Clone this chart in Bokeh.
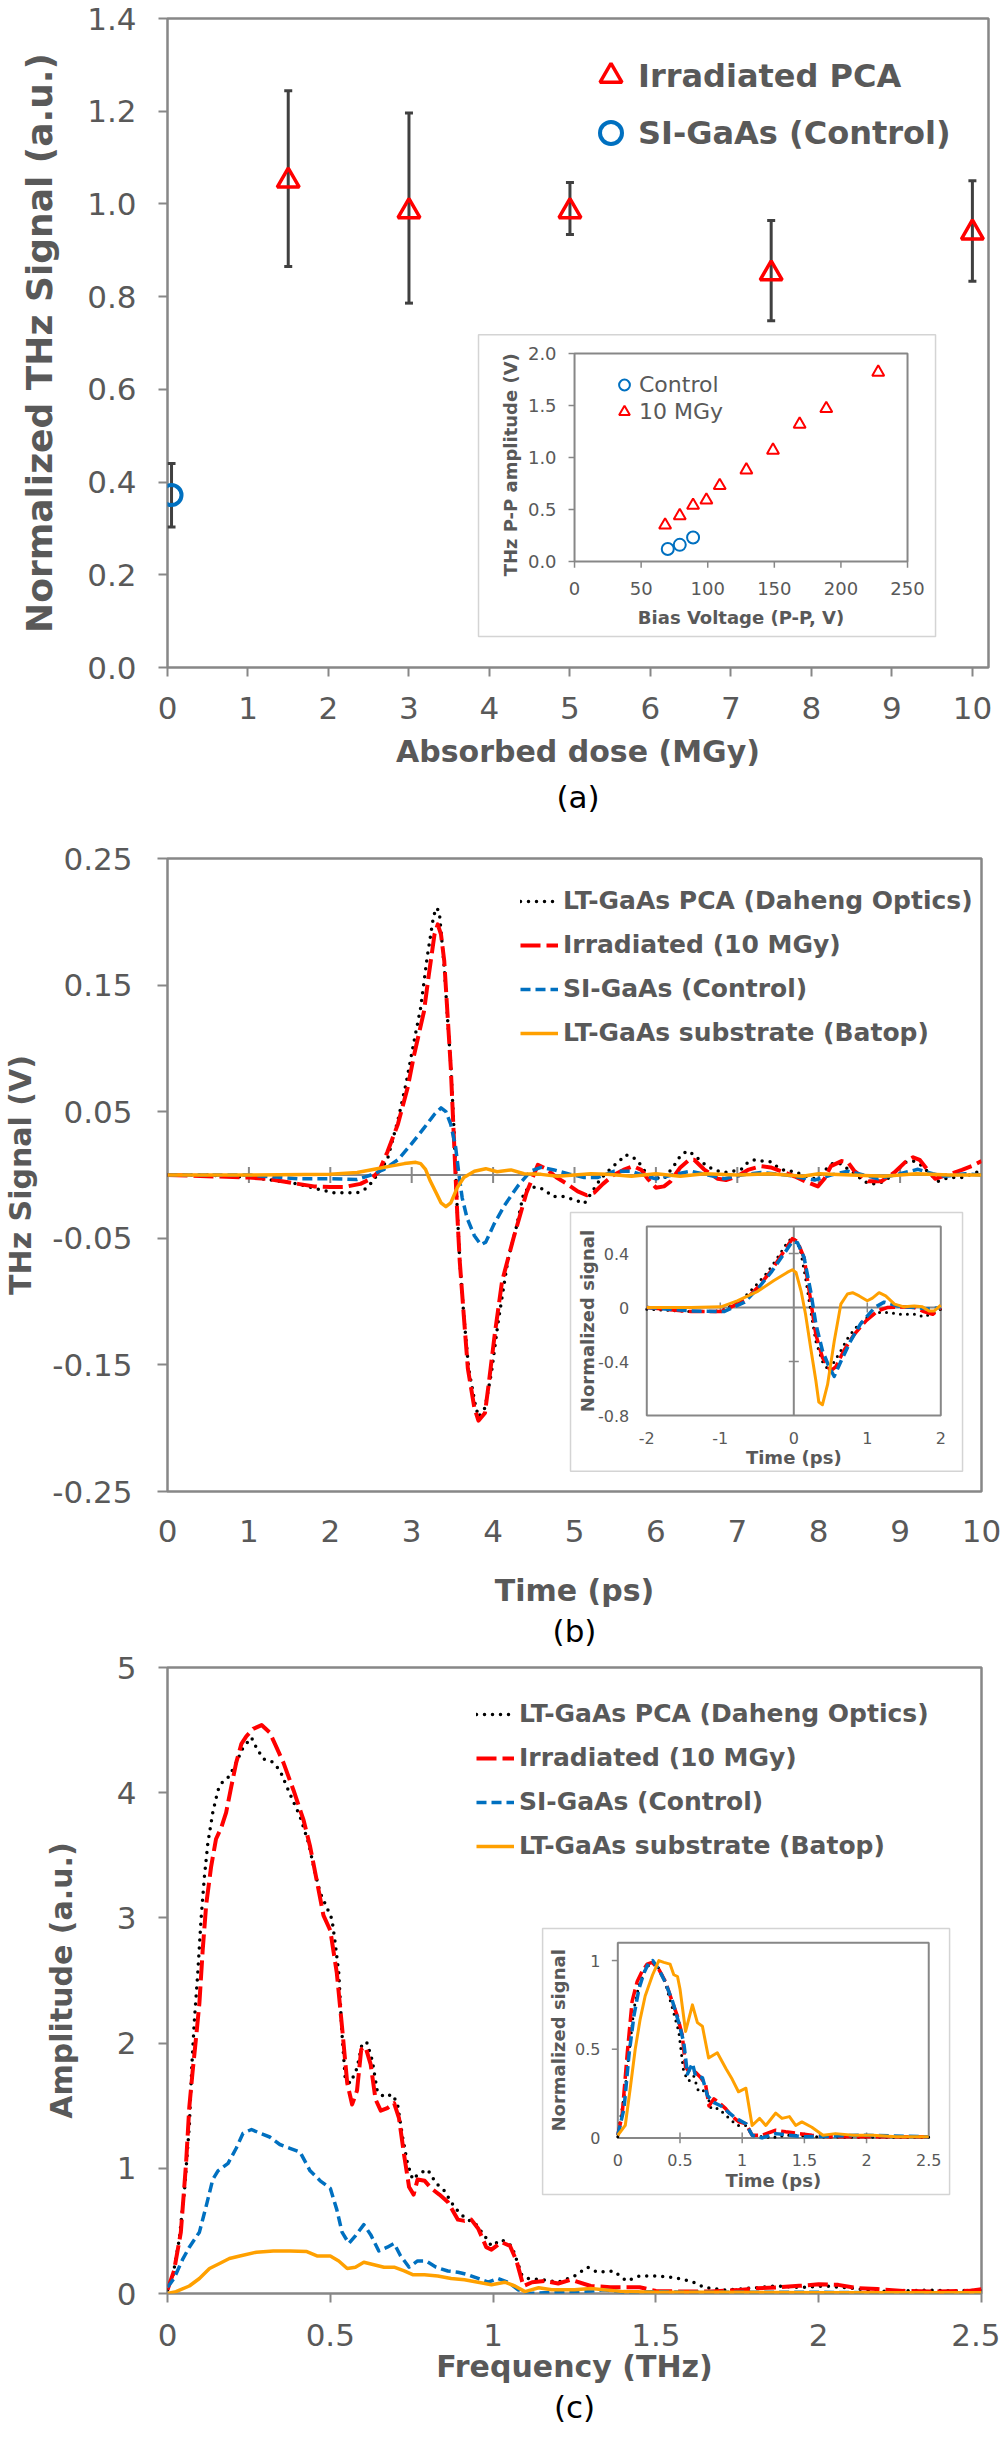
import math
from bokeh.plotting import figure
from bokeh.layouts import column
from bokeh.models import (Range1d, FixedTicker, Legend, LegendItem, Whisker,
                          ColumnDataSource, Title, TeeHead)
from bokeh.embed import file_html
from bokeh.resources import INLINE
from bokeh.core.properties import value

FONT = "DejaVu Sans"
TXT = "#595959"
FRAME = "#878787"
RED = "#FF0000"
BLUE = "#0070C0"
ORANGE = "#FFA000"
BLACK = "#000000"

# ---------------- Panel (a) data ----------------
dose_irr = [1.5, 3, 5, 7.5, 10]
sig_irr = [1.05, 0.984, 0.984, 0.85, 0.938]
lo_irr = [0.865, 0.786, 0.934, 0.748, 0.833]
hi_irr = [1.244, 1.196, 1.046, 0.964, 1.05]
dose_ctrl = [0.05]
sig_ctrl = [0.372]
lo_ctrl = [0.303]
hi_ctrl = [0.44]
a_xticks = list(range(0, 11))
a_yticks = [0.0, 0.2, 0.4, 0.6, 0.8, 1.0, 1.2, 1.4]
a_ylabels = ["0.0", "0.2", "0.4", "0.6", "0.8", "1.0", "1.2", "1.4"]

# inset (a): THz P-P amplitude vs bias voltage
bias_10 = [68, 79, 89, 99, 109, 129, 149, 169, 189, 228]
pp_10 = [0.35, 0.44, 0.54, 0.59, 0.73, 0.88, 1.07, 1.32, 1.47, 1.82]
bias_ctrl = [70, 79, 89]
pp_ctrl = [0.12, 0.16, 0.23]
ia_xticks = [0, 50, 100, 150, 200, 250]
ia_yticks = [0.0, 0.5, 1.0, 1.5, 2.0]
ia_ylabels = ["0.0", "0.5", "1.0", "1.5", "2.0"]

# ---------------- Panel (b) data ----------------
tb_k = [0, 0.5, 1.06, 1.6, 1.84, 2.05, 2.33, 2.46, 2.58, 2.70, 2.83, 2.93, 3.03, 3.11, 3.19, 3.27,
        3.31, 3.34, 3.40, 3.44, 3.48, 3.52, 3.56, 3.59, 3.64, 3.70, 3.78, 3.82, 3.90, 3.98, 4.06,
        4.18, 4.29, 4.38, 4.46, 4.55, 4.64, 4.73, 4.87, 5.04, 5.12, 5.2, 5.32, 5.46, 5.55, 5.63,
        5.72, 5.79, 5.85, 5.98, 6.1, 6.24, 6.3, 6.38, 6.47, 6.55, 6.63, 6.72, 6.84, 6.94, 7.05,
        7.13, 7.21, 7.31, 7.41, 7.5, 7.6, 7.7, 7.83, 7.95, 8.09, 8.17, 8.26, 8.4, 8.52, 8.61, 8.73,
        8.83, 8.95, 9.06, 9.16, 9.25, 9.35, 9.47, 9.6, 9.76, 9.9, 10]
vb_k = [0, 0, -0.002, -0.007, -0.011, -0.014, -0.014, -0.010, 0.0005, 0.012, 0.043, 0.072, 0.106,
        0.132, 0.172, 0.205, 0.211, 0.207, 0.164, 0.124, 0.087, 0.035, -0.028, -0.068, -0.111,
        -0.153, -0.181, -0.191, -0.184, -0.156, -0.117, -0.068, -0.040, -0.013, -0.010, -0.0095,
        -0.012, -0.017, -0.017, -0.0205, -0.0225, -0.015, -0.003, 0.006, 0.011, 0.016, 0.014,
        0.010, 0.004, -0.002, -0.003, 0.009, 0.015, 0.019, 0.016, 0.011, 0.007, 0.004, 0.002,
        0.003, 0.0045, 0.010, 0.012, 0.011, 0.0105, 0.006, 0.003, 0.003, -0.001, -0.003, 0.0045,
        0.009, 0.009, 0.003, -0.003, -0.007, -0.007, -0.004, 0.003, 0.010, 0.011, 0.008, 0.002,
        -0.005, -0.002, -0.002, 0.001, 0.004]

tb_r = [0, 1.0, 1.23, 1.6, 1.8, 2.0, 2.17, 2.37, 2.5, 2.6, 2.7, 2.83, 2.95, 3.03, 3.15, 3.21, 3.28,
        3.32, 3.36, 3.40, 3.44, 3.48, 3.52, 3.56, 3.59, 3.64, 3.69, 3.77, 3.82, 3.9, 3.95, 4.02,
        4.11, 4.25, 4.41, 4.55, 4.65, 4.78, 4.91, 5.04, 5.15, 5.24, 5.35, 5.48, 5.6, 5.72, 5.82,
        5.9, 6.0, 6.1, 6.18, 6.3, 6.41, 6.47, 6.59, 6.76, 6.86, 7.0, 7.13, 7.29, 7.41, 7.54, 7.7,
        7.87, 7.99, 8.07, 8.15, 8.28, 8.36, 8.44, 8.61, 8.77, 8.93, 9.06, 9.16, 9.24, 9.35, 9.43,
        9.6, 9.76, 9.88, 10]
vb_r = [0, -0.002, -0.003, -0.007, -0.009, -0.0095, -0.0095, -0.007, -0.003, 0.003, 0.018, 0.040,
        0.069, 0.095, 0.129, 0.158, 0.190, 0.198, 0.190, 0.169, 0.127, 0.085, 0.027, -0.031,
        -0.068, -0.111, -0.153, -0.184, -0.194, -0.188, -0.163, -0.126, -0.084, -0.050, -0.014,
        0.008, 0.005, -0.002, -0.007, -0.013, -0.016, -0.014, -0.007, 0, 0.004, 0.007, 0.004,
        -0.003, -0.010, -0.009, -0.005, 0.006, 0.012, 0.012, 0.0045, -0.003, -0.004, -0.001,
        0.004, 0.007, 0.006, 0.003, -0.001, -0.006, -0.009, -0.003, 0.007, 0.011, 0.010, 0.003,
        -0.005, -0.005, 0.002, 0.010, 0.014, 0.012, 0.003, -0.003, 0.0005, 0.004, 0.007, 0.011]

tb_b = [0, 1.0, 1.6, 2.0, 2.33, 2.5, 2.66, 2.83, 2.99, 3.15, 3.28, 3.36, 3.42, 3.48, 3.54, 3.58,
        3.62, 3.68, 3.77, 3.85, 3.91, 4.01, 4.14, 4.3, 4.46, 4.59, 4.75, 4.95, 5.12, 5.28, 5.49,
        5.69, 5.94, 6.0, 6.2, 6.43, 6.64, 6.84, 7.05, 7.29, 7.6, 7.95, 8.15, 8.36, 8.55, 8.73,
        9.0, 9.22, 9.4, 9.55, 9.8, 10]
vb_b = [0, 0, -0.003, -0.003, -0.0035, 0, 0.0045, 0.012, 0.024, 0.037, 0.048, 0.053, 0.050, 0.040,
        0.022, 0.0005, -0.018, -0.034, -0.048, -0.055, -0.053, -0.039, -0.024, -0.009, 0.003,
        0.006, 0.004, 0.0005, -0.002, -0.002, 0.003, 0.003, -0.002, -0.003, 0, 0.003, 0, -0.003,
        0, 0.002, 0, -0.004, 0, 0.003, 0, -0.003, 0.001, 0.0045, 0.001, -0.001, 0.001, 0]

tb_o = [0, 1, 2, 2.33, 2.54, 2.74, 2.91, 3.05, 3.11, 3.17, 3.23, 3.3, 3.36, 3.42, 3.48, 3.56, 3.64,
        3.77, 3.91, 4.05, 4.22, 4.38, 4.59, 4.79, 5.0, 5.2, 5.4, 5.7, 6.0, 6.3, 6.6, 7.0, 7.4, 7.8,
        8.0, 8.4, 8.8, 9.2, 9.6, 10]
vb_o = [0, 0, 0.0005, 0.002, 0.0045, 0.007, 0.009, 0.010, 0.009, 0.0045, -0.005, -0.014, -0.022,
        -0.025, -0.022, -0.010, -0.002, 0.003, 0.005, 0.0026, 0.004, 0.001, 0.0005, -0.001, 0,
        0.001, 0.0005, -0.001, 0.001, -0.001, 0.001, 0, 0.001, -0.001, 0.001, 0, -0.001, 0.001, 0, 0]

b_xticks = list(range(0, 11))
b_yticks = [-0.25, -0.15, -0.05, 0.05, 0.15, 0.25]
b_ylabels = ["-0.25", "-0.15", "-0.05", "0.05", "0.15", "0.25"]
b_zero_ticks = list(range(1, 10))

# inset (b): normalized pulses
ti_o = [-2, -1.4, -0.99, -0.77, -0.49, -0.27, -0.09, -0.02, 0.03, 0.1, 0.16, 0.23, 0.30, 0.34,
        0.39, 0.46, 0.55, 0.64, 0.73, 0.8, 0.89, 1.0, 1.07, 1.16, 1.25, 1.37, 1.5, 1.64, 1.75,
        1.84, 1.91, 2.0]
vi_o = [0, 0, 0.005, 0.05, 0.12, 0.2, 0.26, 0.28, 0.26, 0.12, -0.05, -0.30, -0.54, -0.70, -0.72,
        -0.57, -0.25, 0.025, 0.10, 0.11, 0.086, 0.05, 0.07, 0.11, 0.086, 0.025, 0.005, 0.012,
        0.005, -0.025, -0.025, 0.017]
ti_k = [-2, -1.4, -0.99, -0.72, -0.54, -0.36, -0.22, -0.09, -0.02, 0.05, 0.095, 0.16, 0.23, 0.3,
        0.39, 0.48, 0.55, 0.64, 0.73, 0.84, 1.0, 1.14, 1.27, 1.46, 1.66, 1.77, 1.91, 2.0]
vi_k = [-0.012, -0.03, -0.025, 0.05, 0.15, 0.26, 0.37, 0.48, 0.52, 0.48, 0.41, 0.22, -0.025,
        -0.25, -0.40, -0.47, -0.40, -0.32, -0.23, -0.15, -0.074, -0.037, -0.037, -0.05, -0.05,
        -0.07, -0.037, -0.012]
ti_r = [-2, -1.4, -0.99, -0.67, -0.49, -0.31, -0.13, -0.02, 0.05, 0.14, 0.23, 0.3, 0.39, 0.5,
        0.57, 0.68, 0.82, 0.98, 1.14, 1.27, 1.46, 1.64, 1.77, 1.89, 2.0]
vi_r = [0, -0.03, -0.03, 0.05, 0.15, 0.27, 0.42, 0.51, 0.49, 0.37, 0.05, -0.2, -0.37, -0.47,
        -0.44, -0.32, -0.20, -0.1, -0.025, 0, 0.005, 0, -0.03, -0.05, 0]
ti_b = [-2, -1.4, -0.95, -0.67, -0.49, -0.31, -0.13, -0.02, 0.05, 0.14, 0.23, 0.3, 0.39, 0.48,
        0.55, 0.64, 0.77, 0.91, 1.1, 1.23, 1.41, 1.64, 1.82, 2.0]
vi_b = [0, -0.025, -0.03, 0.04, 0.14, 0.26, 0.40, 0.49, 0.48, 0.37, 0.12, -0.12, -0.32, -0.44,
        -0.51, -0.4, -0.25, -0.12, 0, 0.04, 0.012, 0, -0.01, 0]
ib_xticks = [-2, -1, 0, 1, 2]
ib_yticks = [-0.8, -0.4, 0, 0.4]
ib_ylabels = ["-0.8", "-0.4", "0", "0.4"]

# ---------------- Panel (c) data ----------------
fc_k = [0, 0.015, 0.036, 0.052, 0.067, 0.075, 0.082, 0.093, 0.103, 0.113, 0.124, 0.139, 0.155,
        0.17, 0.19, 0.211, 0.232, 0.258, 0.273, 0.294, 0.32, 0.345, 0.376, 0.407, 0.433, 0.454,
        0.469, 0.49, 0.505, 0.515, 0.526, 0.536, 0.546, 0.562, 0.582, 0.598, 0.613, 0.629, 0.644,
        0.665, 0.69, 0.706, 0.722, 0.737, 0.753, 0.773, 0.799, 0.825, 0.851, 0.871, 0.897, 0.923,
        0.948, 0.974, 0.995, 1.026, 1.057, 1.072, 1.088, 1.108, 1.15, 1.2, 1.25, 1.29, 1.32, 1.37,
        1.41, 1.45, 1.49, 1.55, 1.61, 1.65, 1.71, 1.79, 1.87, 1.94, 2.02, 2.1, 2.18, 2.26, 2.34,
        2.42, 2.5]
ac_k = [0.03, 0.12, 0.43, 0.82, 1.34, 1.83, 2.16, 2.56, 2.99, 3.32, 3.6, 3.84, 4.02, 4.09, 4.13,
        4.24, 4.36, 4.44, 4.36, 4.27, 4.25, 4.18, 3.99, 3.81, 3.60, 3.35, 3.20, 3.08, 2.99, 2.80,
        2.56, 2.07, 1.71, 1.68, 1.80, 2.0, 2.0, 1.86, 1.62, 1.57, 1.59, 1.52, 1.25, 1.04, 0.91,
        0.96, 0.99, 0.88, 0.82, 0.73, 0.64, 0.59, 0.55, 0.46, 0.38, 0.43, 0.38, 0.27, 0.15, 0.12,
        0.11, 0.09, 0.14, 0.21, 0.17, 0.18, 0.10, 0.14, 0.14, 0.13, 0.096, 0.048, 0.027, 0.042,
        0.061, 0.048, 0.061, 0.042, 0.016, 0.021, 0.027, 0.021, 0.027]
fc_r = [0, 0.02, 0.041, 0.057, 0.067, 0.077, 0.088, 0.098, 0.108, 0.119, 0.134, 0.149, 0.165,
        0.18, 0.196, 0.211, 0.227, 0.242, 0.263, 0.289, 0.314, 0.33, 0.356, 0.387, 0.418, 0.438,
        0.459, 0.479, 0.5, 0.52, 0.536, 0.552, 0.567, 0.582, 0.595, 0.608, 0.624, 0.639, 0.655,
        0.675, 0.696, 0.711, 0.727, 0.742, 0.756, 0.768, 0.79, 0.81, 0.835, 0.861, 0.892, 0.912,
        0.933, 0.954, 0.979, 0.995, 1.026, 1.052, 1.072, 1.093, 1.12, 1.16, 1.2, 1.24, 1.3, 1.36,
        1.41, 1.45, 1.5, 1.57, 1.67, 1.75, 1.81, 1.87, 1.94, 2.0, 2.06, 2.12, 2.18, 2.26, 2.36,
        2.46, 2.5]
ac_r = [0.03, 0.18, 0.49, 1.04, 1.49, 1.77, 2.05, 2.32, 2.74, 3.11, 3.41, 3.63, 3.72, 3.84, 4.05,
        4.24, 4.39, 4.45, 4.51, 4.54, 4.48, 4.39, 4.24, 4.02, 3.78, 3.57, 3.29, 3.02, 2.9, 2.56,
        2.13, 1.68, 1.51, 1.62, 1.95, 1.97, 1.83, 1.55, 1.46, 1.48, 1.52, 1.40, 1.10, 0.85, 0.79,
        0.91, 0.90, 0.84, 0.79, 0.73, 0.59, 0.58, 0.59, 0.52, 0.37, 0.35, 0.41, 0.38, 0.26, 0.06,
        0.09, 0.10, 0.08, 0.11, 0.06, 0.05, 0.05, 0.05, 0.02, 0.016, 0.016, 0.027, 0.042, 0.048,
        0.061, 0.074, 0.069, 0.042, 0.035, 0.021, 0.016, 0.021, 0.035]
fc_b = [0, 0.02, 0.046, 0.067, 0.098, 0.119, 0.139, 0.155, 0.186, 0.211, 0.232, 0.258, 0.284,
        0.314, 0.345, 0.376, 0.407, 0.438, 0.469, 0.5, 0.52, 0.536, 0.557, 0.577, 0.603, 0.624,
        0.649, 0.675, 0.696, 0.716, 0.742, 0.768, 0.794, 0.825, 0.861, 0.892, 0.923, 0.954, 0.985,
        1.015, 1.046, 1.077, 1.108, 1.2, 1.3, 1.34, 1.4, 1.5, 1.6, 1.8, 2.0, 2.2, 2.5]
ac_b = [0.05, 0.12, 0.27, 0.37, 0.49, 0.70, 0.91, 0.98, 1.04, 1.16, 1.28, 1.31, 1.28, 1.25, 1.19,
        1.16, 1.13, 0.98, 0.90, 0.84, 0.67, 0.49, 0.40, 0.46, 0.55, 0.47, 0.34, 0.37, 0.40, 0.30,
        0.21, 0.26, 0.26, 0.21, 0.18, 0.17, 0.15, 0.12, 0.09, 0.12, 0.09, 0.03, 0.0, 0.01, 0.02,
        0.03, 0.01, 0.015, 0.01, 0.01, 0.01, 0.005, 0.005]
fc_o = [0, 0.026, 0.067, 0.098, 0.129, 0.16, 0.19, 0.222, 0.273, 0.325, 0.376, 0.428, 0.459, 0.5,
        0.526, 0.552, 0.577, 0.603, 0.634, 0.665, 0.696, 0.727, 0.753, 0.789, 0.83, 0.871, 0.912,
        0.954, 0.995, 1.036, 1.067, 1.098, 1.14, 1.18, 1.25, 1.3, 1.4, 1.5, 1.7, 2.0, 2.5]
ac_o = [0, 0.015, 0.06, 0.12, 0.20, 0.24, 0.28, 0.30, 0.33, 0.34, 0.34, 0.335, 0.30, 0.30, 0.26,
        0.20, 0.21, 0.25, 0.23, 0.21, 0.21, 0.18, 0.15, 0.15, 0.14, 0.12, 0.11, 0.09, 0.07, 0.09,
        0.06, 0.015, 0.046, 0.03, 0.03, 0.04, 0.015, 0.01, 0.01, 0.005, 0.005]
c_xticks = [0, 0.5, 1, 1.5, 2, 2.5]
c_xlabels = ["0", "0.5", "1", "1.5", "2", "2.5"]
c_yticks = [0, 1, 2, 3, 4, 5]

# inset (c): normalized spectra
fi_o = [0, 0.06, 0.1, 0.14, 0.18, 0.22, 0.28, 0.33, 0.37, 0.42, 0.45, 0.48, 0.5, 0.545, 0.6, 0.64,
        0.68, 0.73, 0.8, 0.87, 0.92, 0.97, 1.03, 1.08, 1.14, 1.19, 1.27, 1.32, 1.38, 1.43, 1.48,
        1.56, 1.65, 1.75, 1.89, 2.05, 2.24, 2.5]
ai_o = [0.015, 0.07, 0.28, 0.50, 0.67, 0.80, 0.92, 1.0, 0.99, 0.98, 0.92, 0.91, 0.84, 0.60, 0.75,
        0.65, 0.63, 0.45, 0.48, 0.39, 0.33, 0.26, 0.28, 0.07, 0.11, 0.07, 0.14, 0.11, 0.12, 0.07,
        0.09, 0.06, 0.015, 0.024, 0.015, 0.015, 0.006, 0.006]
fi_r = [0, 0.035, 0.075, 0.115, 0.155, 0.196, 0.236, 0.276, 0.33, 0.384, 0.437, 0.478, 0.518,
        0.545, 0.585, 0.625, 0.666, 0.706, 0.733, 0.773, 0.813, 0.867, 0.92, 0.974, 1.03, 1.08,
        1.16, 1.27, 1.35, 1.46, 1.56, 1.7, 2.0, 2.5]
ai_r = [0.015, 0.13, 0.47, 0.77, 0.88, 0.94, 0.98, 0.99, 0.95, 0.88, 0.77, 0.69, 0.58, 0.40, 0.36,
        0.37, 0.34, 0.30, 0.18, 0.22, 0.20, 0.165, 0.12, 0.09, 0.08, 0.015, 0.015, 0.043, 0.034,
        0.024, 0.015, 0.006, 0.006, 0.006]
fi_b = [0, 0.05, 0.09, 0.13, 0.17, 0.21, 0.25, 0.28, 0.33, 0.38, 0.44, 0.49, 0.53, 0.56, 0.6,
        0.625, 0.68, 0.72, 0.77, 0.83, 0.88, 0.95, 1.03, 1.08, 1.16, 1.27, 1.38, 1.51, 1.97, 2.5]
ai_b = [0.015, 0.165, 0.47, 0.69, 0.84, 0.93, 0.99, 1.0, 0.95, 0.88, 0.77, 0.65, 0.54, 0.36, 0.42,
        0.35, 0.34, 0.24, 0.20, 0.18, 0.15, 0.11, 0.08, 0.015, 0, 0.024, 0.015, 0.006, 0.015, 0.006]
fi_k = [0, 0.06, 0.1, 0.13, 0.17, 0.22, 0.27, 0.32, 0.37, 0.44, 0.49, 0.53, 0.57, 0.61, 0.65, 0.71,
        0.75, 0.81, 0.88, 0.96, 1.03, 1.08, 1.24, 1.35, 1.46, 1.56, 2.0, 2.5]
ai_k = [0.006, 0.28, 0.54, 0.73, 0.86, 0.95, 0.99, 0.97, 0.90, 0.73, 0.60, 0.37, 0.32, 0.35, 0.26,
        0.27, 0.165, 0.165, 0.12, 0.07, 0.07, 0.015, 0, 0.015, 0.015, 0.006, 0.003, 0.003]
ic_xticks = [0, 0.5, 1, 1.5, 2, 2.5]
ic_xlabels = ["0", "0.5", "1", "1.5", "2", "2.5"]
ic_yticks = [0, 0.5, 1]
ic_ylabels = ["0", "0.5", "1"]

LEG = ["LT-GaAs PCA (Daheng Optics)", "Irradiated (10 MGy)", "SI-GaAs (Control)",
       "LT-GaAs substrate (Batop)"]

STY_K = dict(line_color=BLACK, line_width=3.5, line_dash="0 8", line_cap="round")
STY_R = dict(line_color=RED, line_width=4, line_dash="20 6", line_join="round")
STY_B = dict(line_color=BLUE, line_width=3.5, line_dash="10 5", line_join="round")
STY_O = dict(line_color=ORANGE, line_width=3.5, line_join="round")


def base_fig(fw, fh, bl, br, bt, bb, xr, yr):
    p = figure(width=fw + bl + br, height=fh + bt + bb, frame_width=fw, frame_height=fh,
               min_border_left=bl, min_border_right=br, min_border_top=bt, min_border_bottom=bb,
               x_range=Range1d(*xr), y_range=Range1d(*yr),
               output_backend="svg", toolbar_location=None)
    p.xgrid.visible = False
    p.ygrid.visible = False
    p.outline_line_color = FRAME
    p.outline_line_width = 2.5
    p.background_fill_color = "white"
    p.border_fill_color = "white"
    for ax in (p.xaxis[0], p.yaxis[0]):
        ax.axis_line_color = None
        ax.major_tick_line_color = FRAME
        ax.major_tick_line_width = 2
        ax.major_tick_in = 0
        ax.minor_tick_line_color = None
        ax.major_label_text_font = FONT
        ax.major_label_text_font_size = "31px"
        ax.major_label_text_color = TXT
        ax.axis_label_text_font = FONT
        ax.axis_label_text_font_style = "bold"
        ax.axis_label_text_font_size = "30px"
        ax.axis_label_text_color = TXT
    return p


def panel_title(p, txt, off, standoff):
    p.add_layout(Title(text=txt, align="center", text_font=FONT, text_font_size="31px",
                       text_font_style="normal", text_color="black", offset=off,
                       standoff=standoff), "below")


def txt(g, x, y, t, size, align="center", bold=False, angle=0.0):
    g.text(x=x, y=y, text=t, text_font=value(FONT), text_font_size=size,
           text_color=TXT, text_align=align, text_baseline="middle",
           text_font_style="bold" if bold else "normal", angle=angle)


def line_legend(p, rends, vx, vy):
    leg = Legend(items=[LegendItem(label=l, renderers=[r]) for l, r in zip(LEG, rends)],
                 location=(vx, vy), orientation="vertical", padding=0, margin=0,
                 border_line_color=None, background_fill_alpha=0,
                 glyph_width=38, glyph_height=28, label_height=28, spacing=15,
                 label_standoff=5, label_text_font=FONT, label_text_font_size="25px",
                 label_text_font_style="bold", label_text_color=TXT)
    p.add_layout(leg)


# =============== Panel (a) ===============
p1 = base_fig(821, 649, 157, 22, 18, 155, (0, 10.2), (0, 1.4))
p1.xaxis[0].ticker = FixedTicker(ticks=a_xticks)
p1.yaxis[0].ticker = FixedTicker(ticks=a_yticks)
p1.yaxis[0].major_label_overrides = dict(zip(a_yticks, a_ylabels))
p1.xaxis[0].major_tick_out = 9
p1.yaxis[0].major_tick_out = 9
p1.xaxis[0].major_label_standoff = 20
p1.yaxis[0].major_label_standoff = 22
p1.xaxis[0].axis_label = "Absorbed dose (MGy)"
p1.xaxis[0].axis_label_standoff = 12
p1.yaxis[0].axis_label = "Normalized THz Signal (a.u.)"
p1.yaxis[0].axis_label_text_font_size = "36px"
p1.yaxis[0].axis_label_standoff = 24
panel_title(p1, "(a)", -15, 10)

for xs, lo, hi in ((dose_irr, lo_irr, hi_irr), (dose_ctrl, lo_ctrl, hi_ctrl)):
    src = ColumnDataSource(dict(x=xs, lo=lo, hi=hi))
    p1.add_layout(Whisker(base="x", lower="lo", upper="hi", source=src, dimension="height",
                          line_color="#404040", line_width=3,
                          upper_head=TeeHead(size=8, line_color="#404040", line_width=3),
                          lower_head=TeeHead(size=8, line_color="#404040", line_width=3)))
r_tri = p1.scatter(dose_irr, sig_irr, marker="triangle", size=22, line_color=RED,
                   line_width=3.5, fill_color=None)
r_circ = p1.scatter(dose_ctrl, sig_ctrl, marker="circle", size=20, line_color=BLUE,
                    line_width=4, fill_color=None)
p1.add_layout(Legend(items=[LegendItem(label="Irradiated PCA", renderers=[r_tri]),
                            LegendItem(label="SI-GaAs (Control)", renderers=[r_circ])],
                     location=(416, 507), padding=0, margin=0, border_line_color=None,
                     background_fill_alpha=0, glyph_width=55, glyph_height=55,
                     label_height=55, spacing=2, label_standoff=0, label_text_font=FONT,
                     label_text_font_size="32px", label_text_font_style="bold",
                     label_text_color=TXT))

# inset (a)
p1.quad(left=3.864, right=9.542, bottom=0.067, top=0.718, fill_color="white",
        line_color="#d4d4d4", line_width=1.5)
ia = p1.subplot(x_source=Range1d(0, 250), y_source=Range1d(0, 2.0),
                x_target=Range1d(5.057, 9.194), y_target=Range1d(0.2287, 0.6773))
ia.quad(left=[0], right=[250], bottom=[0], top=[2.0], fill_color=None, line_color=FRAME,
        line_width=2)
ia.segment(x0=[0] * len(ia_yticks), x1=[-4.5] * len(ia_yticks), y0=ia_yticks, y1=ia_yticks,
           line_color=FRAME, line_width=1.5)
ia.segment(x0=ia_xticks, x1=ia_xticks, y0=[0] * len(ia_xticks), y1=[-0.06] * len(ia_xticks),
           line_color=FRAME, line_width=1.5)
txt(ia, [-13.5] * len(ia_yticks), ia_yticks, ia_ylabels, "18px", align="right")
txt(ia, ia_xticks, [-0.26] * len(ia_xticks), [str(v) for v in ia_xticks], "18px")
txt(ia, [125], [-0.538], ["Bias Voltage (P-P, V)"], "18px", bold=True)
txt(ia, [-48], [0.93], ["THz P-P amplitude (V)"], "18px", bold=True, angle=math.pi / 2)
r_ic = ia.scatter(bias_ctrl, pp_ctrl, marker="circle", size=12, line_color=BLUE,
                  line_width=2, fill_color=None)
r_i10 = ia.scatter(bias_10, pp_10, marker="triangle", size=12, line_color=RED,
                   line_width=2, fill_color=None)
p1.add_layout(Legend(items=[LegendItem(label="Control", renderers=[r_ic]),
                            LegendItem(label="10 MGy", renderers=[r_i10])],
                     location=(442, 242), padding=0, margin=0, border_line_color=None,
                     background_fill_alpha=0, glyph_width=30, glyph_height=27,
                     label_height=27, spacing=0, label_standoff=0, label_text_font=FONT,
                     label_text_font_size="22px", label_text_color=TXT))

# =============== Panel (b) ===============
p2 = base_fig(814, 633, 160, 26, 36, 152, (0, 10), (-0.25, 0.25))
p2.xaxis[0].ticker = FixedTicker(ticks=b_xticks)
p2.xaxis[0].major_tick_out = 0
p2.xaxis[0].major_tick_line_color = None
p2.xaxis[0].major_label_standoff = 28
p2.xaxis[0].axis_label = "Time (ps)"
p2.xaxis[0].axis_label_standoff = 28
p2.yaxis[0].ticker = FixedTicker(ticks=b_yticks)
p2.yaxis[0].major_label_overrides = dict(zip(b_yticks, b_ylabels))
p2.yaxis[0].major_tick_out = 10
p2.yaxis[0].major_label_standoff = 25
p2.yaxis[0].axis_label = "THz Signal (V)"
p2.yaxis[0].axis_label_standoff = 11
panel_title(p2, "(b)", 13, 0)

p2.line(x=[b_xticks[0], b_xticks[-1]], y=[0, 0], line_color=FRAME, line_width=2)
p2.segment(x0=b_zero_ticks, x1=b_zero_ticks, y0=[-0.0063] * 9, y1=[0.0063] * 9,
           line_color=FRAME, line_width=2)
rk = p2.line(tb_k, vb_k, **STY_K)
rr = p2.line(tb_r, vb_r, **STY_R)
rb = p2.line(tb_b, vb_b, **STY_B)
ro = p2.line(tb_o, vb_o, **STY_O)
line_legend(p2, [rk, rr, rb, ro], 353, 444)

# inset (b)
p2.quad(left=4.951, right=9.767, bottom=-0.234, top=-0.0296, fill_color="white",
        line_color="#d4d4d4", line_width=1.5)
ib = p2.subplot(x_source=Range1d(-2, 2), y_source=Range1d(-0.8, 0.6),
                x_target=Range1d(5.888, 9.5), y_target=Range1d(-0.19, -0.0407))
ib.quad(left=[-2], right=[2], bottom=[-0.8], top=[0.6], fill_color=None, line_color=FRAME,
        line_width=2)
ib.segment(x0=[-2, 0], x1=[2, 0], y0=[0, -0.8], y1=[0, 0.6], line_color=FRAME, line_width=2)
ib.segment(x0=[-0.068, -0.068], x1=[0.068, 0.068], y0=[0.4, -0.4], y1=[0.4, -0.4],
           line_color=FRAME, line_width=1.5)
ib.segment(x0=[-1, 1], x1=[-1, 1], y0=[-0.037, -0.037], y1=[0.037, 0.037],
           line_color=FRAME, line_width=1.5)
txt(ib, [-2.24] * len(ib_yticks), ib_yticks, ib_ylabels, "16px", align="right")
txt(ib, ib_xticks, [-0.963] * len(ib_xticks), [str(v) for v in ib_xticks], "16px")
txt(ib, [0], [-1.111], ["Time (ps)"], "18px", bold=True)
txt(ib, [-2.807], [-0.1], ["Normalized signal"], "18px", bold=True, angle=math.pi / 2)
ib.line(ti_k, vi_k, **dict(STY_K, line_width=3, line_dash="0 7"))
ib.line(ti_r, vi_r, **dict(STY_R, line_width=3.5, line_dash="16 5"))
ib.line(ti_b, vi_b, **dict(STY_B, line_width=3.5, line_dash="10 5"))
ib.line(ti_o, vi_o, **dict(STY_O, line_width=3))

# =============== Panel (c) ===============
p3 = base_fig(814, 626, 162, 24, 19, 158, (0, 2.5), (0, 5))
p3.xaxis[0].ticker = FixedTicker(ticks=c_xticks)
p3.xaxis[0].major_label_overrides = dict(zip(c_xticks, c_xlabels))
p3.xaxis[0].major_tick_out = 9
p3.xaxis[0].major_label_standoff = 21
p3.xaxis[0].axis_label = "Frequency (THz)"
p3.xaxis[0].axis_label_standoff = 0
p3.yaxis[0].ticker = FixedTicker(ticks=c_yticks)
p3.yaxis[0].major_tick_out = 9
p3.yaxis[0].major_label_standoff = 22
p3.yaxis[0].axis_label = "Amplitude (a.u.)"
p3.yaxis[0].axis_label_standoff = 35
panel_title(p3, "(c)", 45, 0)

ck = p3.line(fc_k, ac_k, **STY_K)
cr = p3.line(fc_r, ac_r, **STY_R)
cb = p3.line(fc_b, ac_b, **STY_B)
co = p3.line(fc_o, ac_o, **STY_O)
line_legend(p3, [ck, cr, cb, co], 309, 433)

# inset (c)
p3.quad(left=1.152, right=2.402, bottom=0.791, top=2.915, fill_color="white",
        line_color="#d4d4d4", line_width=1.5)
ic = p3.subplot(x_source=Range1d(0, 2.5), y_source=Range1d(0, 1.1),
                x_target=Range1d(1.383, 2.338), y_target=Range1d(1.243, 2.801))
ic.quad(left=[0], right=[2.5], bottom=[0], top=[1.1], fill_color=None, line_color=FRAME,
        line_width=2)
ic.segment(x0=ic_xticks[1:-1], x1=ic_xticks[1:-1], y0=[-0.03] * 4, y1=[0.03] * 4,
           line_color=FRAME, line_width=1.5)
ic.segment(x0=[0, 0], x1=[-0.048, -0.048], y0=[0.5, 1], y1=[0.5, 1], line_color=FRAME,
           line_width=1.5)
txt(ic, [-0.139] * len(ic_yticks), ic_yticks, ic_ylabels, "16px", align="right")
txt(ic, ic_xticks, [-0.126] * len(ic_xticks), ic_xlabels, "16px")
txt(ic, [1.25], [-0.239], ["Time (ps)"], "18px", bold=True)
txt(ic, [-0.477], [0.55], ["Normalized signal"], "18px", bold=True, angle=math.pi / 2)
ic.line(fi_k, ai_k, **dict(STY_K, line_width=3, line_dash="0 7"))
ic.line(fi_r, ai_r, **dict(STY_R, line_width=3.5, line_dash="14 5"))
ic.line(fi_b, ai_b, **dict(STY_B, line_width=3.5, line_dash="10 5"))
ic.line(fi_o, ai_o, **dict(STY_O, line_width=3))

layout = column(p1, p2, p3, spacing=0)
with open("out.html", "w", encoding="utf-8") as f:
    f.write(file_html(layout, INLINE))
